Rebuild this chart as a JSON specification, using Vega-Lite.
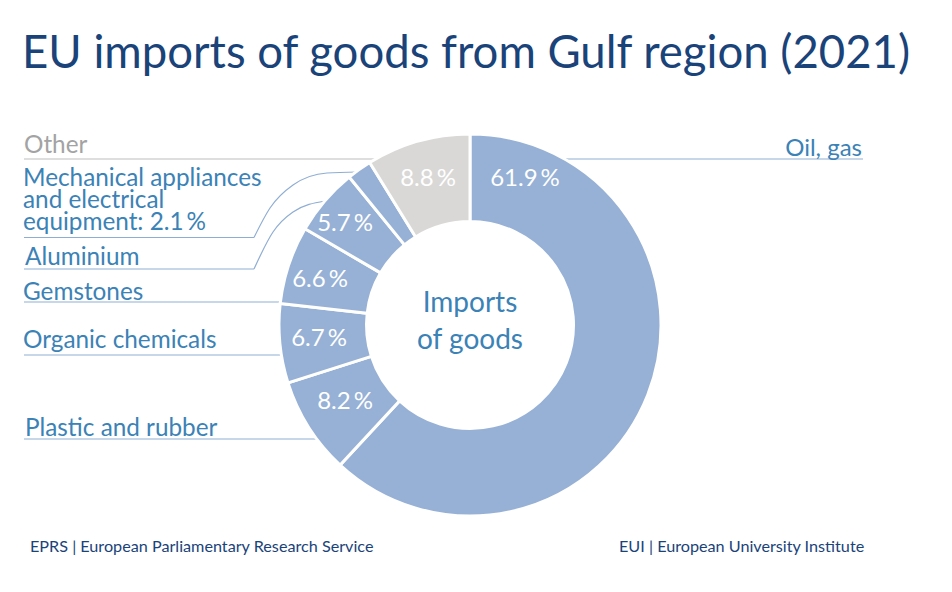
{
"$schema":"https://vega.github.io/schema/vega-lite/v6.json",
"width":940,"height":490,
"autosize":"none",
"padding":{"left":0,"top":80,"right":12,"bottom":22},
"background":"white",
"view":{"stroke":null},
"title":{"text":"EU imports of goods from Gulf region (2021)","anchor":"start","frame":"group","dx":22,"dy":43,"offset":10,"baseline":"alphabetic","font":"Lato","fontSize":45.5,"fontWeight":"normal","color":"#1a4379"},
"datasets":{
"shares":[
{"rank":1,"category":"Oil, gas","label":"Oil, gas","share":61.9,"shareLabel":"61.9\u2009%"},
{"rank":2,"category":"Plastic and rubber","label":"Plastic and rubber","share":8.2,"shareLabel":"8.2\u2009%"},
{"rank":3,"category":"Organic chemicals","label":"Organic chemicals","share":6.7,"shareLabel":"6.7\u2009%"},
{"rank":4,"category":"Gemstones","label":"Gemstones","share":6.6,"shareLabel":"6.6\u2009%"},
{"rank":5,"category":"Aluminium","label":"Aluminium","share":5.7,"shareLabel":"5.7\u2009%"},
{"rank":6,"category":"Mechanical appliances and electrical equipment","label":"Mechanical appliances\nand electrical\nequipment: 2.1\u2009%","share":2.1,"shareLabel":""},
{"rank":7,"category":"Other","label":"Other","share":8.8,"shareLabel":"8.8\u2009%"}
],
"leaders":[
{"category":"Oil, gas","part":"a","node":1},{"category":"Oil, gas","part":"a","node":2},
{"category":"Plastic and rubber","part":"b","node":3},{"category":"Plastic and rubber","part":"b","node":4},
{"category":"Organic chemicals","part":"c","node":5},{"category":"Organic chemicals","part":"c","node":6},
{"category":"Gemstones","part":"d","node":7},{"category":"Gemstones","part":"d","node":8},
{"category":"Aluminium","part":"e","node":9},{"category":"Aluminium","part":"e","node":10},
{"category":"Aluminium","part":"f","node":11},{"category":"Aluminium","part":"f","node":12},{"category":"Aluminium","part":"f","node":13},{"category":"Aluminium","part":"f","node":14},
{"category":"Mechanical appliances and electrical equipment","part":"g","node":15},{"category":"Mechanical appliances and electrical equipment","part":"g","node":16},
{"category":"Mechanical appliances and electrical equipment","part":"h","node":17},{"category":"Mechanical appliances and electrical equipment","part":"h","node":18},{"category":"Mechanical appliances and electrical equipment","part":"h","node":19},{"category":"Mechanical appliances and electrical equipment","part":"h","node":20},{"category":"Mechanical appliances and electrical equipment","part":"h","node":21},
{"category":"Other","part":"i","node":22},{"category":"Other","part":"i","node":23}
],
"notes":[
{"note":1,"text":"EPRS | European Parliamentary Research Service"},
{"note":2,"text":"EUI | European University Institute"}
]
},
"layer":[
{"data":{"name":"leaders"},
"mark":{"type":"line","interpolate":"monotone","strokeWidth":1.2},
"encoding":{
"x":{"field":"node","type":"quantitative","axis":null,"scale":{"zero":false,"nice":false,"domain":[1,2,3,4,5,6,7,8,9,10,11,12,13,14,15,16,17,18,19,20,21,22,23],"range":[566,863,318,24,281,24,281,24,24,254,254,273,293,325,24,254,254,270,293,327,358,24,382]}},
"y":{"field":"node","type":"quantitative","axis":null,"scale":{"zero":false,"nice":false,"domain":[1,2,3,4,5,6,7,8,9,10,11,12,13,14,15,16,17,18,19,20,21,22,23],"range":[79,79,359,359,275,275,222,222,189,189,189,152,132,121,157.5,157.5,157.5,128,105,93,92,79,79]}},
"detail":{"field":"part"},
"order":{"field":"node","type":"quantitative"},
"color":{"field":"category","type":"nominal","legend":null,"scale":{"domain":["Oil, gas","Plastic and rubber","Organic chemicals","Gemstones","Aluminium","Mechanical appliances and electrical equipment","Other"],"range":["#8fadd3","#8fadd3","#8fadd3","#8fadd3","#8fadd3","#8fadd3","#bdbdbd"]}}
}},
{"data":{"name":"shares"},
"mark":{"type":"arc","innerRadius":103.5,"outerRadius":191,"stroke":"white","strokeWidth":3},
"encoding":{
"theta":{"field":"share","type":"quantitative","stack":true},
"order":{"field":"rank","type":"quantitative"},
"color":{"field":"category","type":"nominal","legend":null,"scale":{"domain":["Oil, gas","Plastic and rubber","Organic chemicals","Gemstones","Aluminium","Mechanical appliances and electrical equipment","Other"],"range":["#96b1d5","#96b1d5","#96b1d5","#96b1d5","#96b1d5","#96b1d5","#d9d8d6"]}}
}},
{"data":{"name":"shares"},
"mark":{"type":"text","font":"Lato","fontSize":24,"color":"white","align":"center","baseline":"middle"},
"encoding":{
"text":{"field":"shareLabel"},
"x":{"field":"rank","type":"quantitative","axis":null,"scale":{"zero":false,"nice":false,"domain":[1,2,3,4,5,6,7],"range":[525,345,319,320,345,345,428]}},
"y":{"field":"rank","type":"quantitative","axis":null,"scale":{"zero":false,"nice":false,"domain":[1,2,3,4,5,6,7],"range":[99,322,259,200,144,144,99]}}
}},
{"data":{"name":"shares"},
"transform":[{"filter":"datum.rank > 1"}],
"mark":{"type":"text","font":"Lato","fontSize":24.3,"align":"left","baseline":"alphabetic","lineBreak":"\n","lineHeight":22},
"encoding":{
"text":{"field":"label"},
"x":{"field":"rank","type":"quantitative","axis":null,"scale":{"zero":false,"nice":false,"domain":[2,3,4,5,6,7],"range":[25,23,23,25,23,24]}},
"y":{"field":"rank","type":"quantitative","axis":null,"scale":{"zero":false,"nice":false,"domain":[2,3,4,5,6,7],"range":[356,268,220,185,106,73]}},
"color":{"field":"rank","type":"ordinal","legend":null,"scale":{"domain":[2,3,4,5,6,7],"range":["#3b82b6","#3b82b6","#3b82b6","#3b82b6","#3b82b6","#a3a3a3"]}}
}},
{"data":{"name":"shares"},
"transform":[{"filter":"datum.rank === 1"}],
"mark":{"type":"text","font":"Lato","fontSize":24,"align":"right","baseline":"alphabetic","color":"#3b82b6"},
"encoding":{
"text":{"field":"label"},
"x":{"field":"rank","type":"quantitative","axis":null,"scale":{"zero":false,"nice":false,"domain":[1,2],"range":[862,862]}},
"y":{"field":"rank","type":"quantitative","axis":null,"scale":{"zero":false,"nice":false,"domain":[1,2],"range":[76,76]}}
}},
{"data":{"values":[{"centre":"Imports\nof goods"}]},
"mark":{"type":"text","font":"Lato","fontSize":28,"align":"center","baseline":"middle","lineBreak":"\n","lineHeight":37,"dy":-21,"color":"#3b82b6"},
"encoding":{"text":{"field":"centre"}}
},
{"data":{"name":"notes"},
"mark":{"type":"text","font":"Lato","fontSize":16.2,"align":"left","baseline":"alphabetic","color":"#1a4379"},
"encoding":{
"text":{"field":"text"},
"x":{"field":"note","type":"quantitative","axis":null,"scale":{"zero":false,"nice":false,"domain":[1,2],"range":[30,619]}},
"y":{"field":"note","type":"quantitative","axis":null,"scale":{"zero":false,"nice":false,"domain":[1,2],"range":[472,472]}}
}}
],
"resolve":{"scale":{"x":"independent","y":"independent","color":"independent","theta":"independent"}}
}
